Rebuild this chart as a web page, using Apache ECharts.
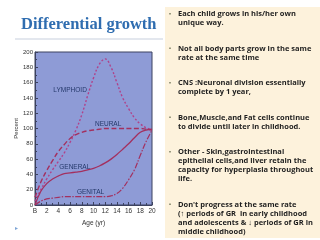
<!DOCTYPE html>
<html><head><meta charset="utf-8">
<script src="https://cdn.jsdelivr.net/npm/echarts@6/dist/echarts.min.js"></script>
<style>html,body{margin:0;padding:0;background:#fff}#c{width:320px;height:240px}</style>
</head><body><div id="c"></div>
<script>
// ---- data ----
const ages = [0,1,2,3,4,5,6,7,8,9,10,11,12,13,14,15,16,17,18,19,20];
const lymphoid = [5,20,34,46,57,68,82,98,118,143,166,184,191,180,160,140,126,114,106,101,98];
const neural   = [10,30,45,58,70,79,87,92,95,97,98,99,100,100,100,100,100,100,100,99,98];
const general  = [0,18,28,34,38,41,42,43,44,46,48,51,55,60,66,73,80,88,95,98,99];
const genital  = [0,5,8,9,10,11,11,11,11,11,11,11,11,12,15,22,33,46,65,83,98];
const xTickLabels = {0:'B',2:'2',4:'4',6:'6',8:'8',10:'10',12:'12',14:'14',16:'16',18:'18',20:'20'};
const curveNames = ['LYMPHOID','NEURAL','GENERAL','GENITAL'];
const title = 'Differential growth';
const notes = [
  ['Each child grows in his/her own','unique way.'],
  ['Not all body parts grow in the same','rate at the same time'],
  ['CNS :Neuronal division essentially','complete by 1 year,'],
  ['Bone,Muscle,and Fat cells continue','to divide until later in childhood.'],
  ['Other - Skin,gastrointestinal','epithelial cells,and liver retain the','capacity for hyperplasia throughout','life.'],
  ["Don't progress at the same rate",'(\u2191 periods of GR  in early childhood','and adolescents & \u2193 periods of GR in','middle childhood)']
];

const pair = arr => ages.map((a,i)=>[a,arr[i]]);
const lineCol = '#a3305f';

const chart = echarts.init(document.getElementById('c'), null, {renderer:'canvas'});
const graphics = [];
graphics.push({type:'rect', shape:{x:165,y:7,width:155,height:231}, style:{fill:'#fdf2dc'}, z:0});
graphics.push({type:'rect', shape:{x:15,y:38,width:148,height:2}, style:{fill:'#e3e7ee'}, z:0});
graphics.push({type:'text', x:21, y:25, style:{text:title, font:'bold 16.5px "Liberation Serif"', fill:'#2f6db0', verticalAlign:'middle'}});
graphics.push({type:'text', x:15, y:228, style:{text:'\u25B8', font:'6px "DejaVu Sans"', fill:'#7fa6d6', verticalAlign:'middle'}});
let y = 14;
notes.forEach(p=>{
  graphics.push({type:'rect', shape:{x:169,y:y-1,width:2,height:1.5}, style:{fill:'#9a9a80'}});
  p.forEach(line=>{
    graphics.push({type:'text', x:178, y:y, style:{text:line, font:'bold 7.5px "Open Sans"', fill:'#1e1e1e', verticalAlign:'middle'}});
    y += 9;
  });
  y += 25.5 - 9;
});

chart.setOption({
  animation:false,
  grid:{left:35, right:168, top:52, bottom:35, show:true, backgroundColor:'#8e9bd6', borderColor:'#3c4260', borderWidth:1},
  xAxis:{type:'value', min:0, max:20, interval:2,
    name:'Age (yr)', nameLocation:'middle', nameGap:14, nameTextStyle:{fontSize:6.5, color:'#333', fontFamily:'Liberation Sans'},
    axisLine:{show:true, lineStyle:{color:'#3c4260'}}, splitLine:{show:false},
    axisTick:{inside:true, length:3, lineStyle:{color:'#3c4260'}},
    minorTick:{show:true, splitNumber:2, length:2, lineStyle:{color:'#3c4260'}},
    axisLabel:{fontSize:6.5, margin:3, color:'#333', fontFamily:'Liberation Sans', formatter:v=>xTickLabels[v]!==undefined?xTickLabels[v]:''}},
  yAxis:{type:'value', min:0, max:200, interval:20,
    name:'Percent', nameLocation:'middle', nameGap:16, nameRotate:90, nameTextStyle:{fontSize:6, color:'#333', fontFamily:'Liberation Sans'},
    axisLine:{show:true, lineStyle:{color:'#3c4260'}}, splitLine:{show:false},
    axisTick:{inside:true, length:3, lineStyle:{color:'#3c4260'}},
    minorTick:{show:true, splitNumber:2, length:2, lineStyle:{color:'#3c4260'}},
    axisLabel:{fontSize:6, margin:2, color:'#333', fontFamily:'Liberation Sans'}},
  series:[
    {name:curveNames[0], type:'line', data:pair(lymphoid), smooth:0.4, symbol:'none', lineStyle:{color:'#b0428a', width:1.4, type:[2,2]}},
    {name:curveNames[1], type:'line', data:pair(neural), smooth:0.4, symbol:'none', lineStyle:{color:lineCol, width:1.4, type:[5,2.5]}},
    {name:curveNames[2], type:'line', data:pair(general), smooth:0.4, symbol:'none', lineStyle:{color:lineCol, width:1.3}},
    {name:curveNames[3], type:'line', data:pair(genital), smooth:0.4, symbol:'none', lineStyle:{color:lineCol, width:1.2, type:[6,1.5,1.5,1.5]}}
  ],
  graphic:graphics
});

// curve name labels placed with the chart's own scale
const labelAt = [[6,150],[12.5,105],[6.8,50],[9.5,17]];
const extra = curveNames.map((n,i)=>{
  const p = chart.convertToPixel({gridIndex:0}, labelAt[i]);
  return {type:'text', x:p[0], y:p[1], style:{text:n, font:'6.5px "Liberation Sans"', fill:'#24386a', align:'center', verticalAlign:'middle'}};
});
chart.setOption({graphic:graphics.concat(extra)});
</script></body></html>
